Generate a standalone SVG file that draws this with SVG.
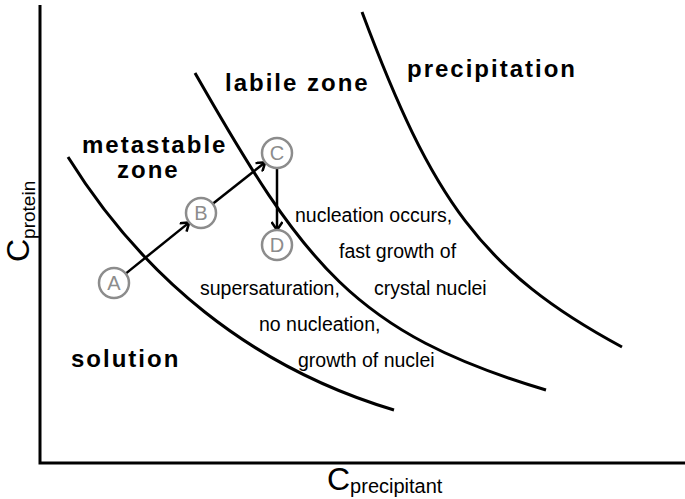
<svg xmlns="http://www.w3.org/2000/svg" width="685" height="499" viewBox="0 0 685 499">
<style>
text{font-family:"Liberation Sans",Arial,sans-serif;}
.zone{font-size:24px;font-weight:bold;letter-spacing:2px;fill:#000;}
.desc{font-size:19.5px;fill:#000;}
.curve{fill:none;stroke:#000;stroke-width:3;}
.axis{fill:none;stroke:#000;stroke-width:3;}
.node circle{fill:#fff;stroke:#8c8c8c;stroke-width:2.5;}
.node text{font-size:20px;fill:#8c8c8c;text-anchor:middle;}
.arrow{fill:none;stroke:#000;stroke-width:2.5;marker-end:url(#head);}
</style>
<defs>
<marker id="head" viewBox="0 0 12 12" refX="11" refY="6" markerWidth="12" markerHeight="12" orient="auto" markerUnits="userSpaceOnUse">
<path d="M3,0.5 L11,6 L3,11.5" fill="none" stroke="#000" stroke-width="2.5"/>
</marker>
</defs>
<rect width="685" height="499" fill="#fff"/>
<g id="axes">
<path class="axis" d="M40,5 V463 H685"/>
<text transform="translate(29,262) rotate(-90)" font-size="32">C<tspan font-size="19" dy="6">protein</tspan></text>
<text x="327" y="490" font-size="32">C<tspan font-size="20" dy="3">precipitant</tspan></text>
</g>
<g id="curves">
<path class="curve" d="M68,157 C142,276 250,367 394,410"/>
<path class="curve" d="M195,73 C304,264 354,333 546,390"/>
<path class="curve" d="M362,12 C432,199 481,271 622,347"/>
</g>
<g id="labels">
<text class="zone" x="82" y="153">metastable</text>
<text class="zone" x="117" y="178">zone</text>
<text class="zone" x="225" y="91">labile zone</text>
<text class="zone" x="407" y="77">precipitation</text>
<text class="zone" x="71" y="367">solution</text>
<text class="desc" x="295" y="222">nucleation occurs,</text>
<text class="desc" x="339" y="258">fast growth of</text>
<text class="desc" x="374" y="295">crystal nuclei</text>
<text class="desc" x="200" y="295">supersaturation,</text>
<text class="desc" x="259" y="331">no nucleation,</text>
<text class="desc" x="298" y="367">growth of nuclei</text>
</g>
<g id="connectors">
<line class="arrow" x1="125.7" y1="273.6" x2="189.3" y2="222.4"/>
<line class="arrow" x1="212.8" y1="203.7" x2="265.2" y2="162.3"/>
<line class="arrow" x1="277" y1="168" x2="277" y2="230"/>
</g>
<g id="node-A" class="node"><circle cx="114" cy="283" r="15"/><text x="114" y="290">A</text></g>
<g id="node-B" class="node"><circle cx="201" cy="213" r="15"/><text x="201" y="220">B</text></g>
<g id="node-C" class="node"><circle cx="277" cy="153" r="15"/><text x="277" y="160">C</text></g>
<g id="node-D" class="node"><circle cx="277" cy="245" r="15"/><text x="277" y="252">D</text></g>
</svg>
